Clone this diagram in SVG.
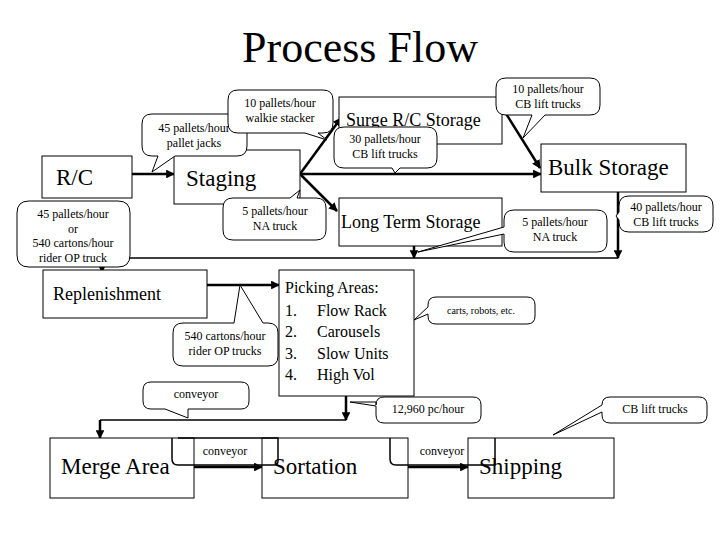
<svg xmlns="http://www.w3.org/2000/svg" width="720" height="540" viewBox="0 0 720 540">
<style>
.n{fill:#fff;stroke:#000;stroke-width:1}
.c{fill:#fff;stroke:#000;stroke-width:1}
.big{font-size:23px}
.sm{font-size:12px;text-anchor:middle}
.a{stroke:#000;stroke-width:2.5;fill:none;marker-end:url(#ah)}
.l{stroke:#000;stroke-width:1.5;fill:none}
</style>
<defs><marker id="ah" viewBox="0 0 10 10" refX="9" refY="5" markerWidth="3.5" markerHeight="3.5" orient="auto"><path d="M0,0L10,5L0,10z"/></marker></defs>
<rect width="720" height="540" fill="#fff"/>
<g font-family="Liberation Serif, serif">
<text x="360" y="62" font-size="44" text-anchor="middle">Process Flow</text>
<g id="connectors">
<path class="a" d="M132,174H174"/>
<path class="a" d="M300,174L341,118"/>
<path class="a" d="M300,174H541"/>
<path class="a" d="M300,174L337,211"/>
<path class="a" d="M505,112L540,168"/>
<path class="a" d="M618,192V258"/>
<path class="a" d="M414,246V258"/>
<path class="l" d="M618,258H102"/>
<path class="a" d="M102,258V272"/>
<path class="a" d="M207,285H279"/>
<path class="a" d="M346,396V420"/>
<path class="l" d="M346,420H100"/>
<path class="a" d="M100,420V438"/>
<path class="a" d="M194,467H262"/>
<path class="a" d="M408,467H468"/>
</g>
<g id="rc"><rect class="n" x="42" y="156" width="90" height="42"/><text class="big" x="56" y="185">R/C</text></g>
<g id="staging"><rect class="n" x="174" y="150" width="126" height="54"/><text class="big" x="186" y="186">Staging</text></g>
<g id="surge"><rect class="n" x="339" y="97" width="163" height="47"/><text font-size="18" x="346" y="126">Surge R/C Storage</text></g>
<g id="bulk"><rect class="n" x="541" y="144" width="145" height="48"/><text class="big" x="548" y="175">Bulk Storage</text></g>
<g id="lts"><rect class="n" x="339" y="198" width="163" height="48"/><text font-size="18" x="341" y="228">Long Term Storage</text></g>
<g id="replenishment"><rect class="n" x="43" y="270" width="164" height="48"/><text font-size="18" x="53" y="300">Replenishment</text></g>
<g id="picking"><rect class="n" x="279" y="270" width="135" height="126"/>
<text font-size="16"><tspan x="285" y="293">Picking Areas:</tspan><tspan x="285" y="316">1.</tspan><tspan x="317" y="316">Flow Rack</tspan><tspan x="285" y="337">2.</tspan><tspan x="317" y="337">Carousels</tspan><tspan x="285" y="359">3.</tspan><tspan x="317" y="359">Slow Units</tspan><tspan x="285" y="380">4.</tspan><tspan x="317" y="380">High Vol</tspan></text></g>
<g id="merge"><rect class="n" x="50" y="438" width="144" height="60"/><text class="big" x="61" y="474">Merge Area</text></g>
<g id="sortation"><rect class="n" x="262" y="438" width="146" height="60"/><text class="big" x="273" y="474">Sortation</text></g>
<g id="shipping"><rect class="n" x="468" y="438" width="146" height="60"/><text class="big" x="479" y="474">Shipping</text></g>
<g id="callouts">
<g id="c1"><path class="c" d="M152,114H237Q247,114 247,124V146Q247,156 237,156H175L152,172L158,156H152Q142,156 142,146V124Q142,114 152,114Z"/><text class="sm" x="194" y="132">45 pallets/hour</text><text class="sm" x="194" y="147">pallet jacks</text></g>
<g id="c2"><path class="c" d="M238,90H323Q333,90 333,100V123Q333,133 323,133H318L327,140L305,133H238Q228,133 228,123V100Q228,90 238,90Z"/><text class="sm" x="280" y="107">10 pallets/hour</text><text class="sm" x="280" y="122">walkie stacker</text></g>
<g id="c3"><path class="c" d="M233,198H290L300,190L297,198H316Q326,198 326,208V230Q326,240 316,240H233Q223,240 223,230V208Q223,198 233,198Z"/><text class="sm" x="275" y="215">5 pallets/hour</text><text class="sm" x="275" y="230">NA truck</text></g>
<g id="c4"><path class="c" d="M29,201H118Q130,201 130,213V255Q130,267 118,267H29Q17,267 17,255V213Q17,201 29,201Z"/><text class="sm" x="73" y="218">45 pallets/hour</text><text class="sm" x="73" y="233">or</text><text class="sm" x="73" y="247">540 cartons/hour</text><text class="sm" x="73" y="262">rider OP truck</text></g>
<g id="c5"><path class="c" d="M344,127H427Q437,127 437,137V158Q437,168 427,168H400L395,173L392,168H344Q334,168 334,158V137Q334,127 344,127Z"/><text class="sm" x="385" y="143">30 pallets/hour</text><text class="sm" x="385" y="158">CB lift trucks</text></g>
<g id="c6"><path class="c" d="M506,78H590Q600,78 600,88V105Q600,115 590,115H545L523,138L532,115H506Q496,115 496,105V88Q496,78 506,78Z"/><text class="sm" x="548" y="93">10 pallets/hour</text><text class="sm" x="548" y="108">CB lift trucks</text></g>
<g id="c7"><path class="c" d="M514,210H597Q607,210 607,220V242Q607,252 597,252H514Q504,252 504,242V234L418,252L504,227V220Q504,210 514,210Z"/><text class="sm" x="555" y="226">5 pallets/hour</text><text class="sm" x="555" y="241">NA truck</text></g>
<g id="c8"><path class="c" d="M629,196H703Q713,196 713,206V222Q713,232 703,232H629Q619,232 619,222V220L616,216L619,212V206Q619,196 629,196Z"/><text class="sm" x="666" y="211">40 pallets/hour</text><text class="sm" x="666" y="226">CB lift trucks</text></g>
<g id="c9"><path class="c" d="M183,323H232L234,323L240,285L263,323H268Q278,323 278,333V356Q278,366 268,366H183Q173,366 173,356V333Q173,323 183,323Z"/><text class="sm" x="225" y="340">540 cartons/hour</text><text class="sm" x="225" y="355">rider OP trucks</text></g>
<g id="c10"><path class="c" d="M436,297H527Q535,297 535,305V316Q535,324 527,324H436Q428,324 428,316V314L414,320L428,307V305Q428,297 436,297Z"/><text font-size="10" text-anchor="middle" x="481" y="314">carts, robots, etc.</text></g>
<g id="c11"><path class="c" d="M151,382H241Q249,382 249,390V401Q249,409 241,409H188L188,418L165,409H151Q143,409 143,401V390Q143,382 151,382Z"/><text class="sm" x="196" y="398">conveyor</text></g>
<g id="c12"><path class="c" d="M384,397H473Q481,397 481,405V415Q481,423 473,423H384Q376,423 376,415V406L350,402L376,402V405Q376,397 384,397Z"/><text class="sm" x="428" y="413">12,960 pc/hour</text></g>
<g id="c13"><path class="c" d="M610,397H699Q707,397 707,405V415Q707,423 699,423H610Q602,423 602,415V412L553,435L602,405Q602,397 610,397Z"/><text class="sm" x="655" y="413">CB lift trucks</text></g>
<g id="c14"><path class="l" stroke-width="1" d="M178,438H278V461Q278,465 274,465H178Q172,465 172,459V438"/><text class="sm" x="225" y="455">conveyor</text></g>
<g id="c15"><path class="l" stroke-width="1" d="M390,438V459Q390,465 396,465H495V438"/><text class="sm" x="442" y="455">conveyor</text></g>
</g>
</g>
</svg>
